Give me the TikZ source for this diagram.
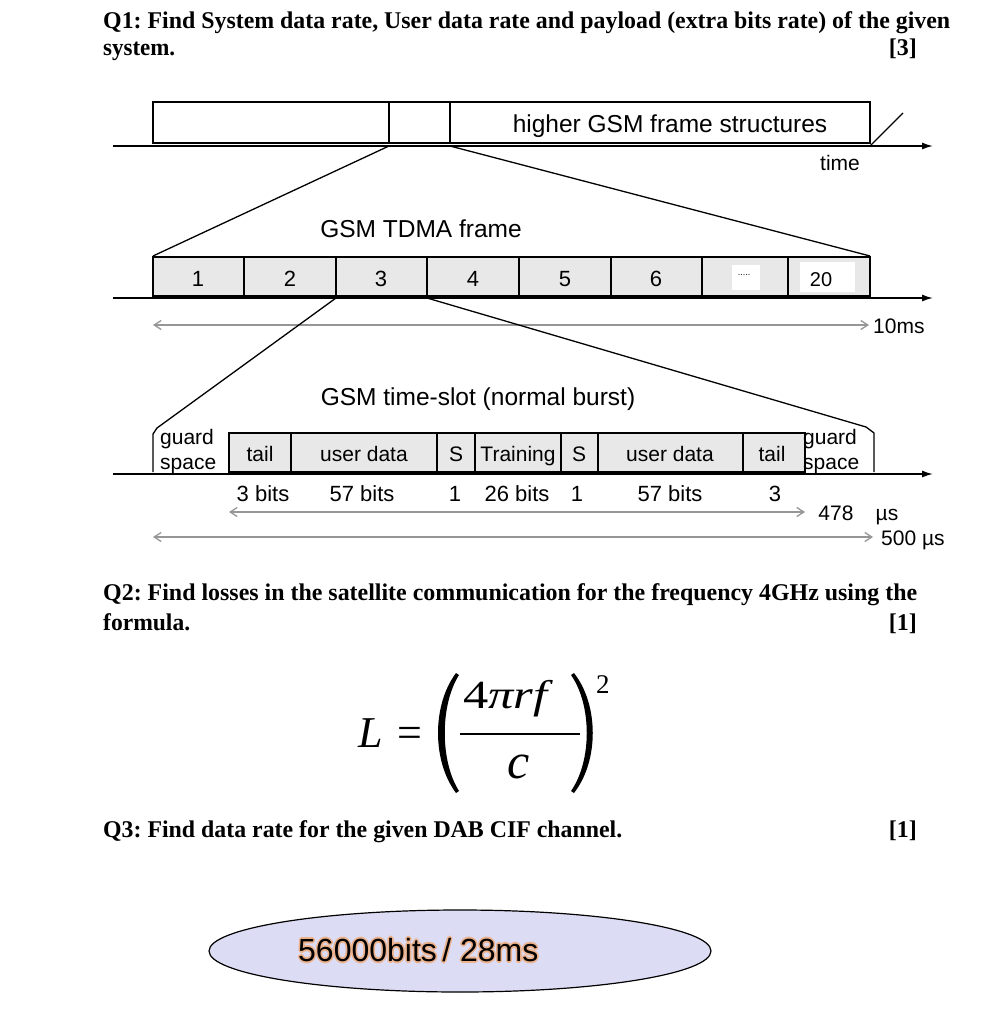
\documentclass[tikz,border=0pt]{standalone}
\usepackage{fontspec}
\setmainfont{Liberation Serif}
\newfontfamily\arial{Liberation Sans}
\usetikzlibrary{arrows.meta,shapes.geometric}
\definecolor{cellgray}{RGB}{232,232,232}
\definecolor{dimgray}{RGB}{150,150,150}
\definecolor{lav}{RGB}{220,220,245}
\definecolor{glow}{RGB}{236,178,140}
\frenchspacing
\newcommand{\glowcopy}[3]{\makebox[0pt][l]{\kern#1\raisebox{#2}{\textcolor{glow}{#3}}}}
\newcommand{\glowtext}[1]{%
  \glowcopy{-1.6pt}{0pt}{#1}\glowcopy{1.6pt}{0pt}{#1}%
  \glowcopy{0pt}{-1.6pt}{#1}\glowcopy{0pt}{1.6pt}{#1}%
  \glowcopy{-1.2pt}{-1.2pt}{#1}\glowcopy{1.2pt}{1.2pt}{#1}%
  \glowcopy{-1.2pt}{1.2pt}{#1}\glowcopy{1.2pt}{-1.2pt}{#1}%
  #1}
\begin{document}
\begin{tikzpicture}[x=1pt,y=-1pt,
  box/.style={draw=black, line width=1.3pt},
  ln/.style={line width=1.3pt, draw=black},
  axis/.style={line width=1.5pt, -{Latex[length=11pt,width=7pt]}},
  dim/.style={line width=1.3pt, draw=dimgray, {Straight Barb[length=7pt,width=9pt]}-{Straight Barb[length=7pt,width=9pt]}},
  lbl/.style={font=\arial\fontsize{24.5}{28}\selectfont, inner sep=0pt, anchor=base},
  cell/.style={font=\arial\fontsize{22}{26}\selectfont, inner sep=0pt, anchor=base},
  small/.style={font=\arial\fontsize{21}{25}\selectfont, inner sep=0pt, anchor=base},
  head/.style={font=\fontsize{24}{28}\selectfont\bfseries, inner sep=0pt, anchor=base west},
  headr/.style={font=\fontsize{24}{28}\selectfont\bfseries, inner sep=0pt, anchor=base east}
]
\useasboundingbox[fill=white] (0,0) rectangle (1000,1024);

% ---------- headings ----------
\node[head] (q1a) at (103,29) {\resizebox{847pt}{\height}{Q1: Find System data rate, User data rate and payload (extra bits rate) of the given}};
\node[head] (q1b) at (103,56) {\resizebox{72pt}{\height}{system.}};
\node[headr] (q1m) at (917,56) {[3]};

\node[head] (q2a) at (103,600) {\resizebox{814pt}{\height}{Q2: Find losses in the satellite communication for the frequency 4GHz using the}};
\node[head] (q2b) at (103,630) {\resizebox{87pt}{\height}{formula.}};
\node[headr] (q2m) at (917,630) {[1]};

\node[head] (q3a) at (103,837) {\resizebox{519pt}{\height}{Q3: Find data rate for the given DAB CIF channel.}};
\node[headr] (q3m) at (917,837) {[1]};

% ---------- top level frame ----------
\draw[box, fill=white] (153,102) rectangle (870,143);
\draw[box] (389,102) -- (389,143);
\draw[box] (450,102) -- (450,143);
\node[lbl] (hg) at (670,133) {higher GSM frame structures};
\coordinate (ta0) at (113,146);
\coordinate (ta1) at (933,146);
\draw[axis] (ta0) -- (ta1);
\coordinate (sl0) at (870,146);
\coordinate (sl1) at (903,113);
\draw[ln] (sl0) -- (sl1);
\node[small] (time) at (840,171) {time};

% zoom lines to TDMA frame
\coordinate (z1) at (389,146);
\coordinate (z2) at (450,146);
\coordinate (f0) at (153,256);
\coordinate (f1) at (870,256);
\draw[ln] (z1) -- (f0);
\draw[ln] (z2) -- (f1);
\node[lbl] (tdma) at (421,237) {GSM TDMA frame};

% ---------- TDMA frame ----------
\draw[box, fill=cellgray] (153,257) rectangle (870,296);
\foreach \x in {244,336,427,519,611,702,788} \draw[box] (\x,257) -- (\x,296);
\fill[white] (732,265) rectangle (760,290);
\fill[white] (800,262) rectangle (855,292);
\node[cell] (n1) at (198,286) {1};
\node[cell] (n2) at (290,286) {2};
\node[cell] (n3) at (381,286) {3};
\node[cell] (n4) at (473,286) {4};
\node[cell] (n5) at (565,286) {5};
\node[cell] (n6) at (656,286) {6};
\node[font=\arial\fontsize{9}{10}\selectfont, inner sep=0pt] (ndots) at (744,275) {.....};
\node[font=\arial\fontsize{20}{24}\selectfont, inner sep=0pt, anchor=base] (n20) at (821,286) {20};
\coordinate (fa0) at (113,298);
\coordinate (fa1) at (933,298);
\draw[axis] (fa0) -- (fa1);
\coordinate (d10a) at (153,325);
\coordinate (d10b) at (869,325);
\draw[dim] (d10a) -- (d10b);
\node[small, anchor=base west] (ten) at (873,333) {10ms};

% zoom lines to burst
\coordinate (y1) at (336,298);
\coordinate (y2) at (427,298);
\draw[ln] (y1) -- (157,428) -- (153,434) -- (153,472);
\draw[ln] (y2) -- (866,427) -- (874,433) -- (874,472);
\node[lbl] (slot) at (478,405) {GSM time-slot (normal burst)};

% ---------- burst ----------
\draw[box, fill=cellgray] (229,433) rectangle (805,472);
\foreach \x in {291,437,475,561,598,743} \draw[box] (\x,433) -- (\x,472);
\node[small] (b1) at (260,461) {tail};
\node[small] (b2) at (364,461) {user data};
\node[small] (b3) at (456,461) {S};
\node[small] (b4) at (518,461) {Training};
\node[small] (b5) at (579,461) {S};
\node[small] (b6) at (670,461) {user data};
\node[small] (b7) at (772,461) {tail};
\node[small, anchor=base west] (g1) at (160,444) {guard};
\node[small, anchor=base west] (g2) at (160,469) {space};
\node[small, anchor=base west] (g3) at (803,444) {guard};
\node[small, anchor=base west] (g4) at (803,469) {space};
\coordinate (ba0) at (113,474);
\coordinate (ba1) at (933,474);
\draw[axis] (ba0) -- (ba1);

\node[cell] (c1) at (263,501) {3 bits};
\node[cell] (c2) at (362,501) {57 bits};
\node[cell] (c3) at (455,501) {1};
\node[cell] (c4) at (517,501) {26 bits};
\node[cell] (c5) at (577,501) {1};
\node[cell] (c6) at (670,501) {57 bits};
\node[cell] (c7) at (775,501) {3};

\coordinate (d4a) at (229,512);
\coordinate (d4b) at (805,512);
\draw[dim] (d4a) -- (d4b);
\node[small] (t478) at (836,520) {478};
\node[small] (us1) at (887,520) {µs};
\coordinate (d5a) at (153,537);
\coordinate (d5b) at (873,537);
\draw[dim] (d5a) -- (d5b);
\node[small, anchor=base west] (t500) at (881,545) {500 µs};

% ---------- formula ----------
\node[inner sep=0pt, anchor=base west, font=\fontsize{44}{50}\selectfont\itshape] (fl) at (358,747) {L};
\node[inner sep=0pt, anchor=base west, font=\fontsize{44}{50}\selectfont] (feq) at (397,747) {=};
\fill (456,673) .. controls (432,705) and (432,761) .. (456,793)
      -- (459,791) .. controls (440,761) and (440,705) .. (459,675) -- cycle;
\fill (574,673) .. controls (599,705) and (599,761) .. (574,793)
      -- (571,791) .. controls (592,761) and (592,705) .. (571,675) -- cycle;
\node[inner sep=0pt, anchor=base, font=\fontsize{40}{46}\selectfont] (num) at (508,708) {\resizebox{90pt}{\height}{4\textit{πrf}}};
\coordinate (fb0) at (460,734);
\coordinate (fb1) at (580,734);
\draw[line width=1.6pt] (fb0) -- (fb1);
\node[inner sep=0pt, anchor=base, font=\fontsize{50}{56}\selectfont\itshape] (den) at (519,778) {c};
\node[inner sep=0pt, anchor=base west, font=\fontsize{27}{30}\selectfont] (sq) at (596,693) {2};

% ---------- ellipse ----------
\node[ellipse, draw=black, line width=1.2pt, fill=lav, minimum width=502pt, minimum height=82pt, inner sep=0pt] (ell) at (460,951) {};
\node[inner sep=0pt, anchor=west, font=\arial\fontsize{32}{36}\selectfont] (etext) at (298,950) {\glowtext{56000bits\,/ 28ms}};
\end{tikzpicture}
\end{document}
